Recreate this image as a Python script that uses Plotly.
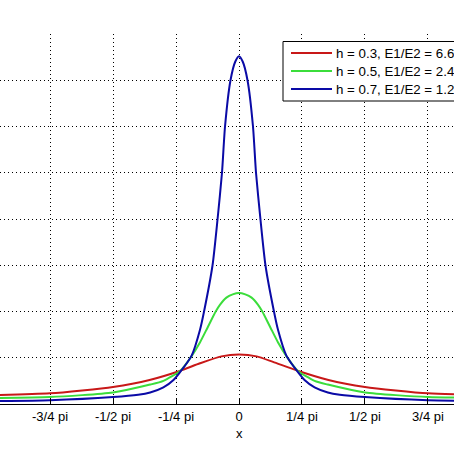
import numpy as np
import plotly.graph_objects as go

# x positions in units of pi/4
red_xq = [-4.0, -3.0, -2.0, -1.42, -0.93, -0.62, -0.28, 0.0, 0.28, 0.54, 0.93, 1.42, 2.0, 3.0, 4.0]
red_y = [0.19, 0.23, 0.37, 0.52, 0.72, 0.88, 1.03, 1.07, 1.03, 0.91, 0.72, 0.52, 0.37, 0.23, 0.19]

green_xq = [-4.0, -3.0, -2.0, -1.41, -1.2, -0.93, -0.76, -0.62, -0.5, -0.37, -0.3, -0.2, -0.1, 0.0,
            0.1, 0.2, 0.3, 0.37, 0.5, 0.62, 0.76, 0.93, 1.2, 1.41, 2.0, 3.0, 4.0]
green_y = [0.13, 0.15, 0.25, 0.42, 0.5, 0.72, 1.02, 1.33, 1.65, 2.0, 2.15, 2.30, 2.37, 2.40,
           2.37, 2.30, 2.15, 2.0, 1.65, 1.33, 1.02, 0.72, 0.5, 0.42, 0.25, 0.15, 0.13]

blue_xq = [-4.0, -3.0, -2.0, -1.6, -1.41, -1.2, -1.04, -0.93, -0.83, -0.75, -0.62, -0.555, -0.42, -0.34,
           -0.27, -0.222, -0.135, -0.06, 0.0,
           0.06, 0.135, 0.222, 0.27, 0.34, 0.42, 0.555, 0.62, 0.75, 0.83, 0.93, 1.04, 1.2, 1.41, 1.6,
           2.0, 3.0, 4.0]
blue_y = [0.06, 0.08, 0.15, 0.2, 0.25, 0.36, 0.52, 0.70, 0.88, 1.05, 1.6, 2.0, 3.0, 4.0,
          5.0, 6.0, 7.0, 7.4, 7.52,
          7.4, 7.0, 6.0, 5.0, 4.0, 3.0, 2.0, 1.6, 1.05, 0.88, 0.70, 0.52, 0.36, 0.25, 0.2,
          0.15, 0.08, 0.06]

names = ["h = 0.3, E1/E2 = 6.6", "h = 0.5, E1/E2 = 2.4", "h = 0.7, E1/E2 = 1.2"]
tick_q = [-3, -2, -1, 0, 1, 2, 3]
tick_text = ["-3/4 pi", "-1/2 pi", "-1/4 pi", "0", "1/4 pi", "1/2 pi", "3/4 pi"]
y_grid = [0, 1, 2, 3, 4, 5, 6, 7, 8]

q = np.pi / 4
colors = ["#C81818", "#3BDD3B", "#0A0AA6"]
series = [(red_xq, red_y), (green_xq, green_y), (blue_xq, blue_y)]

fig = go.Figure()
for (xq, yv), col, nm in zip(series, colors, names):
    fig.add_trace(go.Scatter(x=np.array(xq) * q, y=yv, mode="lines", name=nm, showlegend=False,
                             line=dict(color=col, width=2, shape="spline", smoothing=0.6)))

font = dict(family="Liberation Sans, Arial, sans-serif", size=13, color="black")
lfont = dict(family="Liberation Sans, Arial, sans-serif", size=13.3, color="black")

W, H, T, B = 454, 454, 34, 50
PH = H - T - B


def px(xp):
    return xp / W


def py(yp):
    return 1 - (yp - T) / PH


# legend (box extends past the right edge, as in the cropped original)
shapes = [dict(type="rect", xref="paper", yref="paper", x0=px(283), x1=px(480),
               y0=py(101), y1=py(41.5), line=dict(color="black", width=1),
               fillcolor="white", layer="above")]
annotations = []
row_y = [53, 71, 89]
for col, nm, ry in zip(colors, names, row_y):
    shapes.append(dict(type="line", xref="paper", yref="paper", x0=px(291), x1=px(332),
                       y0=py(ry), y1=py(ry), line=dict(color=col, width=2), layer="above"))
    annotations.append(dict(xref="paper", yref="paper", x=px(334), y=py(ry), text=nm,
                            showarrow=False, xanchor="left", yanchor="middle", font=lfont))

# axis title, centred under x = 0 as in the (cropped) original
annotations.append(dict(xref="x", yref="paper", x=0, y=py(433), text="x", showarrow=False,
                        xanchor="center", yanchor="middle", font=font))

fig.update_layout(
    width=W, height=H,
    margin=dict(l=0, r=0, t=T, b=B, autoexpand=False),
    paper_bgcolor="white", plot_bgcolor="white",
    font=font,
    showlegend=False,
    shapes=shapes,
    annotations=annotations,
    xaxis=dict(range=[-3.794 * q, 3.413 * q], tickvals=np.array(tick_q) * q, ticktext=tick_text,
               showline=True, linecolor="black", linewidth=1, ticks="inside", ticklen=5,
               tickcolor="black", showgrid=True, gridcolor="black", griddash="1px,3px", gridwidth=1,
               zeroline=False, tickfont=font),
    yaxis=dict(range=[0, 8], tickvals=y_grid, showticklabels=False, ticks="",
               showgrid=True, gridcolor="black", griddash="1px,3px", gridwidth=1,
               zeroline=False, showline=False),
)
fig.write_html("out.html")
